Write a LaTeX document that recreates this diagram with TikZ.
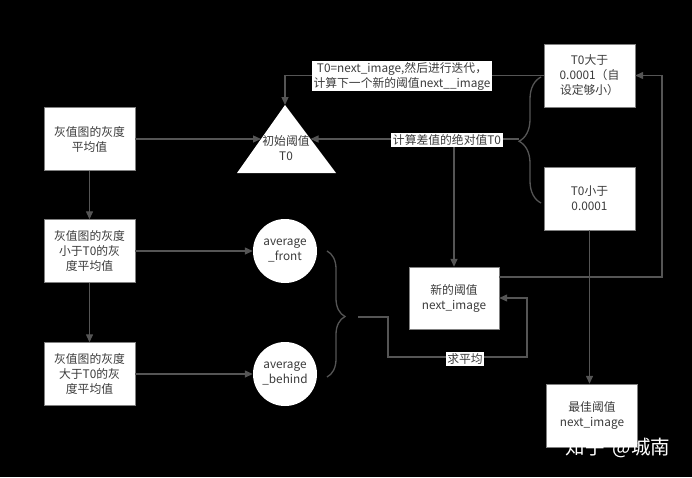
\documentclass[tikz,border=0pt]{standalone}
\usepackage{fontspec}
\setmainfont{Noto Sans CJK SC}
\usepackage{tikz}
\usetikzlibrary{positioning,calc,arrows.meta,decorations.pathreplacing}
\definecolor{linegray}{RGB}{85,85,85}
\definecolor{textgray}{RGB}{60,60,60}

\begin{document}
\begin{tikzpicture}[x=1pt,y=-1pt]
            \tikzstyle{box}=[draw=gray,fill=white,text=textgray,minimum width=91pt,minimum height=63pt,align=center,inner sep=2pt,font=\fontsize{11.8}{15}\selectfont]
            \tikzstyle{avgnode}=[circle,fill=white,text=textgray,minimum size=64pt,align=center,inner sep=0pt,font=\fontsize{11.8}{15}\selectfont]
            \tikzstyle{lab}=[fill=white,text=textgray,align=center,inner sep=1.5pt,font=\fontsize{11.8}{15}\selectfont]
            \tikzstyle{con}=[draw=linegray,line width=1.3pt]
            \tikzstyle{arr}=[con,-{Triangle[length=8pt,width=7pt]}]

            % background and size
            \fill[black] (0,0) rectangle (692,477);
            \useasboundingbox (0,0) rectangle (692,477);

            % left column
            \node[box] (grayAvg) at (89.5,139) {灰值图的灰度\\平均值};
            \node[box] (lowAvg) at (89.5,251) {灰值图的灰度\\小于T0的灰\\度平均值};
            \node[box] (highAvg) at (89.5,374) {灰值图的灰度\\大于T0的灰\\度平均值};

            % initial threshold
            \coordinate (apex) at (285,105);
            \coordinate (tl) at (237,173);
            \coordinate (tr) at (336,173);
            \fill[white] (apex) -- (tr) -- (tl) -- cycle;
            \coordinate (initL) at ($(apex)!0.5!(tl)$);
            \coordinate (initR) at ($(apex)!0.5!(tr)$);
            \node[text=textgray,align=center,font=\fontsize{11.8}{15}\selectfont] (init) at (286,148) {初始阈值\\T0};

            \node[avgnode] (front) at (285,251) {average\\\_front};
            \node[avgnode] (behind) at (285,374) {average\\\_behind};

            % right side
            \node[box] (bigT) at (589.5,75.5) {T0大于\\0.0001（自\\设定够小）};
            \node[box] (smallT) at (589.5,198.5) {T0小于\\0.0001};
            \node[box,minimum width=90pt,minimum height=62pt] (newT) at (454,298) {新的阈值\\next\_image};
            \node[box] (bestT) at (592,415.5) {最佳阈值\\next\_image};

            % arrows
            \draw[arr] (grayAvg) -- (lowAvg);
            \draw[arr] (lowAvg) -- (highAvg);
            \draw[arr] (grayAvg.east) -- (initL);
            \draw[arr] (lowAvg) -- (front);
            \draw[arr] (highAvg) -- (behind);

            % loop back to T0
            \draw[arr] (bigT.west) -| (apex);
            \node[lab] (iterLab) at (402,76) {T0=next\_image,然后进行迭代，\\计算下一个新的阈值next\_\_image};

            % brace over the two tests
            \draw[con,decorate,decoration={brace,amplitude=22pt,aspect=0.49}] (541,203) -- (541,77);
            \coordinate (diffTip) at (519,139);
            \draw[arr] (diffTip) -- (initR);
            \node[lab] (diffLab) at (447,140) {计算差值的绝对值T0};
            \draw[arr] (diffLab.south -| newT.north) -- (newT.north);

            \coordinate (loopR) at (662,277);
            \draw[arr] (newT.east |- loopR) -- (loopR) |- (bigT.east);
            \draw[arr] (smallT.south) -- (smallT.south |- bestT.north);

            % average of the two means
            \draw[con,decorate,decoration={brace,amplitude=18pt,aspect=0.52}] (327,251) -- (327,377);
            \coordinate (avgSum) at (358,317);
            \coordinate (sumL) at (388,357);
            \coordinate (sumR) at (527,298);
            \draw[arr] (avgSum) -| (sumL) -- (sumL -| sumR) |- (newT.east);
            \node[lab] (meanLab) at (465,359) {求平均};

            \node[text=white,font=\fontsize{19.5}{20}\selectfont] (mark) at (618,448) {知乎\hspace{8pt}@城南};
\end{tikzpicture}
\end{document}
